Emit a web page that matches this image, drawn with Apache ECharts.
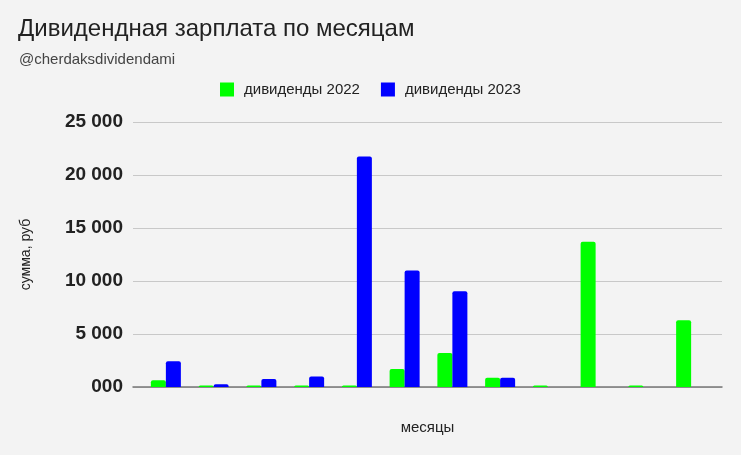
<!DOCTYPE html>
<html>
<head>
<meta charset="utf-8">
<script src="https://cdn.jsdelivr.net/npm/echarts@6/dist/echarts.min.js"></script>
<style>
	html, body {margin:0; padding:0; background:#f3f3f3;}
	#chart {width:741px; height:455px;}
</style>
</head>
<body>
<div id="chart"></div>
<script>
var months = ['янв', 'фев', 'мар', 'апр', 'май', 'июн', 'июл', 'авг', 'сен', 'окт', 'ноя', 'дек'];
var div2022 = [630, 150, 150, 150, 150, 1700, 3200, 870, 150, 13700, 150, 6300];
var div2023 = [2430, 250, 750, 1000, 21750, 11000, 9030, 870, 0, 0, 0, 0];
var yTicks = {min: 0, max: 25000, step: 5000};

var fontName = '"Liberation Sans", Arial, sans-serif';

function fmtThousands(v) {
	// в оригинале ноль подписан как "000"
	if (v === 0) {
		return '000';
	}
	return String(v).replace(/\B(?=(\d{3})+(?!\d))/g, ' ');
}

var chart = echarts.init(document.getElementById('chart'));

var option = {
	backgroundColor: '#f3f3f3',
	textStyle: {fontFamily: fontName},
	title: [
		{text: 'Дивидендная зарплата по месяцам', left: 18, top: 17, padding: 0,
			textStyle: {fontSize: 24, fontWeight: 'normal', color: '#222', fontFamily: fontName}},
		{text: '@cherdaksdividendami', left: 19, top: 52, padding: 0,
			textStyle: {fontSize: 15, fontWeight: 'normal', color: '#444', fontFamily: fontName}}
	],
	legend: {
		left: 220,
		top: 82,
		padding: 0,
		itemWidth: 14,
		itemHeight: 14,
		itemGap: 21,
		icon: 'rect',
		textStyle: {fontSize: 15, color: '#222', padding: [0, 0, 0, 5]},
		data: ['дивиденды 2022', 'дивиденды 2023']
	},
	grid: [
		{left: 133, right: 19, top: 122, bottom: 68},
		{left: 142, right: 26, top: 122, bottom: 68}
	],
	xAxis: [
		{
			gridIndex: 0, type: 'value', min: 0, max: 1,
			axisLine: {show: true, lineStyle: {color: '#777', width: 1.5}},
			axisTick: {show: false}, axisLabel: {show: false}, splitLine: {show: false},
			name: 'месяцы', nameLocation: 'middle', nameGap: 33,
			nameTextStyle: {fontSize: 15, color: '#222'}
		},
		{
			gridIndex: 1, type: 'category', data: months, show: false
		}
	],
	yAxis: [
		{
			gridIndex: 0, type: 'value', min: yTicks.min, max: yTicks.max, interval: yTicks.step,
			axisLine: {show: false}, axisTick: {show: false},
			axisLabel: {formatter: fmtThousands, fontSize: 19, fontWeight: 'bold', color: '#222', margin: 10},
			splitLine: {lineStyle: {color: '#c8c8c8', width: 1.2}},
			name: 'сумма, руб', nameLocation: 'middle', nameGap: 100,
			nameTextStyle: {fontSize: 14, color: '#222'}
		},
		{
			gridIndex: 1, type: 'value', min: yTicks.min, max: yTicks.max, show: false
		}
	],
	series: [
		{
			name: 'дивиденды 2022', type: 'bar', xAxisIndex: 1, yAxisIndex: 1,
			barWidth: 15, barGap: '0%',
			itemStyle: {color: '#00ff00', borderRadius: [2, 2, 0, 0]},
			data: div2022
		},
		{
			name: 'дивиденды 2023', type: 'bar', xAxisIndex: 1, yAxisIndex: 1,
			barWidth: 15, barGap: '0%',
			itemStyle: {color: '#0000ff', borderRadius: [2, 2, 0, 0]},
			data: div2023
		}
	]
};

chart.setOption(option);
</script>
</body>
</html>
